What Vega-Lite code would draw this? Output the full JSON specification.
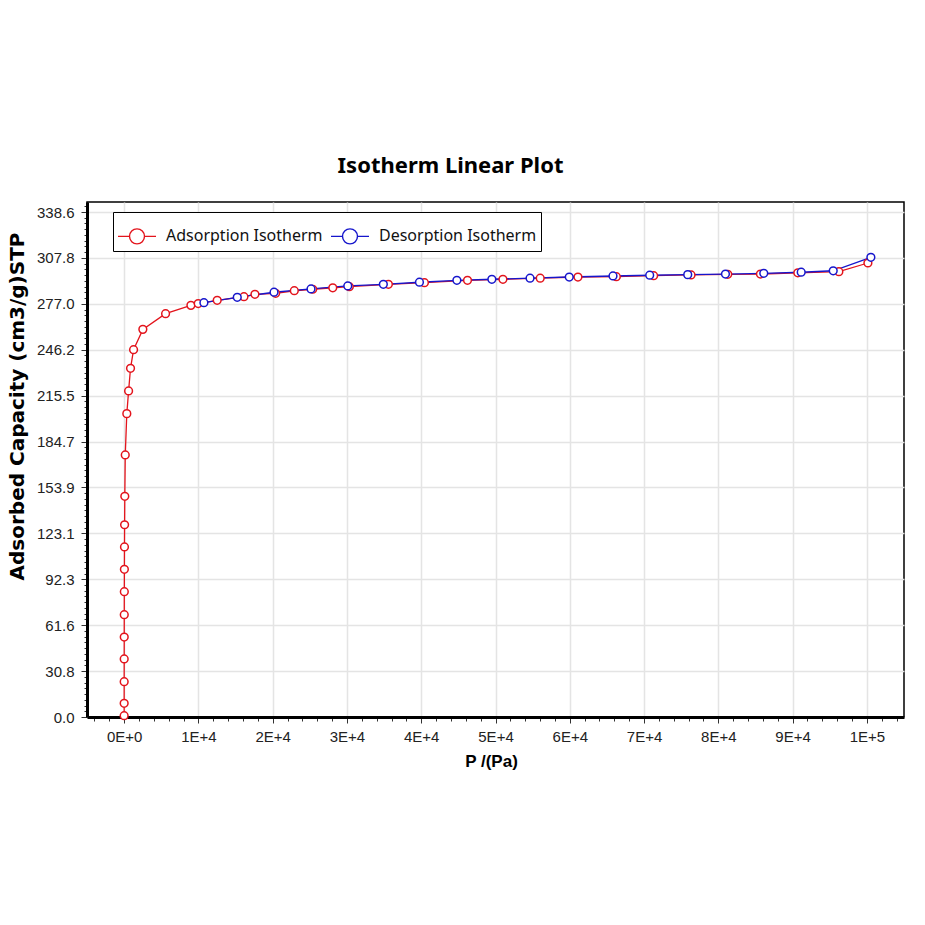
{
  "$schema": "https://vega.github.io/schema/vega-lite/v6.json",
  "width": 817,
  "height": 515,
  "autosize": {"type": "none"},
  "padding": {"left": 87, "top": 202, "right": 21, "bottom": 208},
  "background": "white",
  "title": {
    "text": "Isotherm Linear Plot",
    "font": "Noto Sans",
    "fontSize": 22,
    "fontWeight": "bold",
    "color": "#000000",
    "anchor": "middle",
    "frame": "group",
    "dx": -45,
    "offset": 21
  },
  "config": {
    "view": {"stroke": "#000000", "strokeWidth": 1.5},
    "axis": {
      "labelFont": "Liberation Sans",
      "labelFontSize": 15,
      "labelColor": "#222222",
      "titleFont": "Liberation Sans",
      "titleFontWeight": "bold",
      "titleColor": "#000000",
      "domainColor": "#000000",
      "domainWidth": 3,
      "tickColor": "#333333",
      "tickWidth": 1,
      "gridColor": "#e4e4e4",
      "gridWidth": 1.5,
      "labelOverlap": false,
      "labelFlush": false
    }
  },
  "data": {
    "values": [
      {"s": "Adsorption Isotherm", "P": 1, "V": 0.9},
      {"s": "Adsorption Isotherm", "P": 3, "V": 9.2},
      {"s": "Adsorption Isotherm", "P": 5, "V": 23.7},
      {"s": "Adsorption Isotherm", "P": 8, "V": 38.9},
      {"s": "Adsorption Isotherm", "P": 12, "V": 53.6},
      {"s": "Adsorption Isotherm", "P": 17, "V": 68.6},
      {"s": "Adsorption Isotherm", "P": 24, "V": 84.0},
      {"s": "Adsorption Isotherm", "P": 33, "V": 99.0},
      {"s": "Adsorption Isotherm", "P": 45, "V": 114.0},
      {"s": "Adsorption Isotherm", "P": 62, "V": 128.9},
      {"s": "Adsorption Isotherm", "P": 90, "V": 148.0},
      {"s": "Adsorption Isotherm", "P": 150, "V": 175.7},
      {"s": "Adsorption Isotherm", "P": 360, "V": 203.4},
      {"s": "Adsorption Isotherm", "P": 600, "V": 218.6},
      {"s": "Adsorption Isotherm", "P": 860, "V": 233.8},
      {"s": "Adsorption Isotherm", "P": 1270, "V": 246.3},
      {"s": "Adsorption Isotherm", "P": 2520, "V": 259.9},
      {"s": "Adsorption Isotherm", "P": 5580, "V": 270.4},
      {"s": "Adsorption Isotherm", "P": 8990, "V": 276.0},
      {"s": "Adsorption Isotherm", "P": 9970, "V": 277.2},
      {"s": "Adsorption Isotherm", "P": 12530, "V": 279.4},
      {"s": "Adsorption Isotherm", "P": 16130, "V": 281.8},
      {"s": "Adsorption Isotherm", "P": 17610, "V": 283.4},
      {"s": "Adsorption Isotherm", "P": 20400, "V": 284.1},
      {"s": "Adsorption Isotherm", "P": 22910, "V": 285.8},
      {"s": "Adsorption Isotherm", "P": 25390, "V": 286.8},
      {"s": "Adsorption Isotherm", "P": 28090, "V": 287.8},
      {"s": "Adsorption Isotherm", "P": 30320, "V": 288.5},
      {"s": "Adsorption Isotherm", "P": 35580, "V": 290.1},
      {"s": "Adsorption Isotherm", "P": 40430, "V": 291.2},
      {"s": "Adsorption Isotherm", "P": 46230, "V": 292.8},
      {"s": "Adsorption Isotherm", "P": 51000, "V": 293.5},
      {"s": "Adsorption Isotherm", "P": 56020, "V": 294.2},
      {"s": "Adsorption Isotherm", "P": 61100, "V": 295.0},
      {"s": "Adsorption Isotherm", "P": 66270, "V": 295.2},
      {"s": "Adsorption Isotherm", "P": 71290, "V": 295.9},
      {"s": "Adsorption Isotherm", "P": 76330, "V": 296.4},
      {"s": "Adsorption Isotherm", "P": 81270, "V": 296.8},
      {"s": "Adsorption Isotherm", "P": 85670, "V": 297.0},
      {"s": "Adsorption Isotherm", "P": 90700, "V": 297.8},
      {"s": "Adsorption Isotherm", "P": 96230, "V": 298.6},
      {"s": "Adsorption Isotherm", "P": 100140, "V": 304.4},
      {"s": "Desorption Isotherm", "P": 100540, "V": 308.2},
      {"s": "Desorption Isotherm", "P": 95470, "V": 299.2},
      {"s": "Desorption Isotherm", "P": 91160, "V": 298.2},
      {"s": "Desorption Isotherm", "P": 86120, "V": 297.5},
      {"s": "Desorption Isotherm", "P": 80960, "V": 297.0},
      {"s": "Desorption Isotherm", "P": 75880, "V": 296.6},
      {"s": "Desorption Isotherm", "P": 70760, "V": 296.2},
      {"s": "Desorption Isotherm", "P": 65820, "V": 295.7},
      {"s": "Desorption Isotherm", "P": 59930, "V": 295.0},
      {"s": "Desorption Isotherm", "P": 54650, "V": 294.2},
      {"s": "Desorption Isotherm", "P": 49510, "V": 293.5},
      {"s": "Desorption Isotherm", "P": 44800, "V": 292.8},
      {"s": "Desorption Isotherm", "P": 39760, "V": 291.5},
      {"s": "Desorption Isotherm", "P": 34900, "V": 290.1},
      {"s": "Desorption Isotherm", "P": 30110, "V": 289.0},
      {"s": "Desorption Isotherm", "P": 25160, "V": 287.0},
      {"s": "Desorption Isotherm", "P": 20180, "V": 284.8},
      {"s": "Desorption Isotherm", "P": 15230, "V": 281.4},
      {"s": "Desorption Isotherm", "P": 10740, "V": 277.8}
    ]
  },
  "encoding": {
    "x": {
      "field": "P",
      "type": "quantitative",
      "scale": {"domain": [-5000, 105000], "nice": false, "zero": false},
      "axis": {
        "title": "P /(Pa)",
        "titleFontSize": 17,
        "titleY": 44,
        "titleX": 404,
        "titleBaseline": "middle",
        "values": [-4000, -2000, 0, 2000, 4000, 6000, 8000, 10000, 12000, 14000, 16000, 18000, 20000, 22000, 24000, 26000, 28000, 30000, 32000, 34000, 36000, 38000, 40000, 42000, 44000, 46000, 48000, 50000, 52000, 54000, 56000, 58000, 60000, 62000, 64000, 66000, 68000, 70000, 72000, 74000, 76000, 78000, 80000, 82000, 84000, 86000, 88000, 90000, 92000, 94000, 96000, 98000, 100000, 102000, 104000],
        "labelExpr": "datum.value % 10000 === 0 ? (datum.value === 0 ? '0E+0' : (datum.value === 100000 ? '1E+5' : (datum.value / 10000) + 'E+4')) : ''",
        "labelPadding": 6,
        "tickSize": {"condition": {"test": "datum.value % 10000 === 0", "value": 6}, "value": 4},
        "gridOpacity": {"condition": {"test": "datum.value % 10000 === 0", "value": 1}, "value": 0}
      }
    },
    "y": {
      "field": "V",
      "type": "quantitative",
      "scale": {"domain": [0, 345.3], "nice": false, "zero": false},
      "axis": {
        "title": "Adsorbed Capacity (cm3/g)STP",
        "titleFont": "DejaVu Sans",
        "titleFontSize": 20,
        "titleX": -70,
        "titleY": 204,
        "titleAngle": -90,
        "titleAlign": "center",
        "titleBaseline": "middle",
        "values": [0, 3.8475, 7.695, 11.5425, 15.39, 19.2375, 23.085, 26.9325, 30.78, 34.6275, 38.475, 42.3225, 46.17, 50.0175, 53.865, 57.7125, 61.56, 65.4075, 69.255, 73.1025, 76.95, 80.7975, 84.645, 88.4925, 92.34, 96.1875, 100.035, 103.8825, 107.73, 111.5775, 115.425, 119.2725, 123.12, 126.9675, 130.815, 134.6625, 138.51, 142.3575, 146.205, 150.0525, 153.9, 157.7475, 161.595, 165.4425, 169.29, 173.1375, 176.985, 180.8325, 184.68, 188.5275, 192.375, 196.2225, 200.07, 203.9175, 207.765, 211.6125, 215.46, 219.3075, 223.155, 227.0025, 230.85, 234.6975, 238.545, 242.3925, 246.24, 250.0875, 253.935, 257.7825, 261.63, 265.4775, 269.325, 273.1725, 277.02, 280.8675, 284.715, 288.5625, 292.41, 296.2575, 300.105, 303.9525, 307.8, 311.6475, 315.495, 319.3425, 323.19, 327.0375, 330.885, 334.7325, 338.58, 342.4275],
        "labelExpr": "abs(datum.value / 30.78 - round(datum.value / 30.78)) < 0.01 ? format(datum.value, '.1f') : ''",
        "labelPadding": 7,
        "tickSize": {"condition": {"test": "abs(datum.value / 30.78 - round(datum.value / 30.78)) < 0.01", "value": 6}, "value": 3},
        "gridOpacity": {"condition": {"test": "abs(datum.value / 30.78 - round(datum.value / 30.78)) < 0.01", "value": 1}, "value": 0}
      }
    },
    "stroke": {
      "field": "s",
      "type": "nominal",
      "scale": {"domain": ["Adsorption Isotherm", "Desorption Isotherm"], "range": ["#e3141c", "#1616cc"]},
      "legend": {
        "orient": "none",
        "legendX": 26,
        "legendY": 10,
        "direction": "horizontal",
        "title": null,
        "strokeColor": "#000000",
        "fillColor": "#ffffff",
        "padding": 4,
        "symbolType": "M-1,0H-0.395M0.395,0H1M-0.395,0A0.395,0.395,0,1,1,0.395,0A0.395,0.395,0,1,1,-0.395,0",
        "symbolSize": 1444,
        "symbolStrokeWidth": 1.4,
        "symbolFillColor": "#ffffff",
        "labelFont": "Noto Sans",
        "labelFontSize": 16,
        "labelColor": "#111111",
        "labelOffset": 9,
        "columnPadding": 5
      }
    }
  },
  "layer": [
    {"mark": {"type": "line", "strokeWidth": 1.3}},
    {"mark": {"type": "point", "shape": "circle", "filled": false, "fill": "#ffffff", "fillOpacity": 1, "size": 60, "strokeWidth": 1.5, "opacity": 1}}
  ]
}
